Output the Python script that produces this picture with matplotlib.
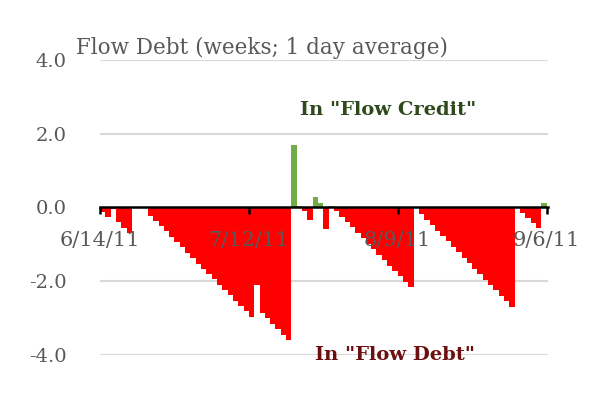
import numpy as np
import matplotlib.pyplot as plt
from matplotlib.transforms import Bbox

# daily flow debt values (weeks), starting 6/14/11
values = [
    -0.12, -0.27, -0.05, -0.40, -0.55, -0.70, 0.0, 0.0, 0.0,
    -0.22, -0.36, -0.51, -0.65, -0.80, -0.94, -1.08, -1.23, -1.37, -1.52,
    -1.66, -1.80, -1.95, -2.09, -2.24, -2.38, -2.53, -2.67, -2.82, -2.97,
    -2.10, -2.85, -3.00, -3.15, -3.30, -3.45, -3.60,
    1.70, 0.05, -0.10, -0.35, 0.28, 0.12, -0.58, 0.03,
    -0.10, -0.25, -0.40, -0.54, -0.69, -0.84, -0.99, -1.13, -1.28, -1.43,
    -1.58, -1.72, -1.87, -2.02, -2.16,
    0.0,
    -0.18, -0.33, -0.48, -0.63, -0.77, -0.92, -1.07, -1.22, -1.37, -1.51,
    -1.66, -1.81, -1.96, -2.11, -2.25, -2.40, -2.55, -2.70,
    0.0, -0.14, -0.28, -0.42, -0.56, 0.12,
]
tick_days = [0, 28, 56, 84]
tick_labels = ['6/14/11', '7/12/11', '8/9/11', '9/6/11']
y_ticks = [-4, -2, 0, 2, 4]

plt.rcParams['font.family'] = ['DejaVu Serif']
fig = plt.figure(figsize=(5.92, 4.08), dpi=100)
ax = fig.add_axes([0.169, 0.13, 0.757, 0.723])

days = np.arange(len(values))
vals = np.array(values)
colors = np.where(vals >= 0, '#70AD47', '#FF0000')
ax.bar(days, vals, width=1.0, align='edge', color=colors, linewidth=0)

ax.set_ylim(-4, 4)
ax.set_xlim(0, 84.3)
ax.set_yticks(y_ticks)
ax.set_yticklabels([f'{v:.1f}' for v in y_ticks])
ax.set_xticks(tick_days)
ax.set_xticklabels(tick_labels)
for y in y_ticks:
    if y != 0:
        ax.axhline(y, color='#D9D9D9', linewidth=1.5, zorder=0)
for s in ['left', 'right', 'top']:
    ax.spines[s].set_visible(False)
ax.spines['bottom'].set_position(('data', 0))
ax.spines['bottom'].set_linewidth(1.8)
ax.tick_params(axis='x', length=5, width=1.8, direction='out', pad=12,
               labelsize=15, labelcolor='#595959')
ax.tick_params(axis='y', length=0, pad=24, labelsize=14, labelcolor='#595959')

t = fig.text(0.128, 0.855, 'Flow Debt (weeks; 1 day average)',
             fontsize=15.5, color='#595959', va='bottom')
t.set_clip_box(Bbox.from_extents(0, 0, 551, 408))
fig.text(0.655, 0.73, 'In "Flow Credit"', fontsize=14,
         fontweight='bold', color='#2E4A1C', ha='center', va='center')
fig.text(0.668, 0.13, 'In "Flow Debt"', fontsize=14,
         fontweight='bold', color='#6B0F0F', ha='center', va='center')

fig.savefig('out.png', dpi=100)
